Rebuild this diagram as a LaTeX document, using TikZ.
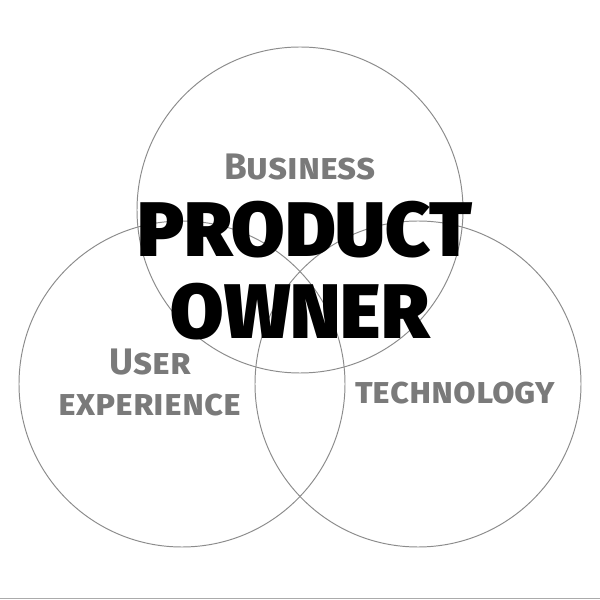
\documentclass[tikz,border=0pt]{standalone}
\usepackage{fontspec}
\setmainfont{Fira Sans}
\newfontfamily\bigfont{Fira Sans Black}
\newfontfamily\smallfont{Fira Sans Bold}[Letters=SmallCaps]
\definecolor{ringgray}{HTML}{8C8C8C}
\definecolor{labelgray}{HTML}{7A7A7A}
\tikzset{
  ring/.style={draw=ringgray, line width=0.55pt},
  area/.style={text=labelgray, font=\smallfont\fontsize{21}{22}\selectfont, align=center},
  title/.style={text=black, font=\bigfont\fontsize{44}{46}\selectfont, inner sep=0pt}
}
\begin{document}
\begin{tikzpicture}
\useasboundingbox (0,0) rectangle (12,12);
\fill[white] (0,0) rectangle (12,12);
\draw[ring] (6,7.8) circle (3.26);
\draw[ring] (3.64,4.32) circle (3.26);
\draw[ring] (8.36,4.32) circle (3.26);
\draw[draw=black!33, line width=0.9pt] (0,0.03)--(12,0.03);

\node[area] (business) at (6,8.66) {Business};
\node[area] (user) at (3,4.75) {User};
\node[area] (experience) at (3,3.9) {experience};
\node[area] (technology) at (9.1,4.13) {technology};

\node[title] (product) at (6.1,7.4) {PRODUCT};
\node[title] (owner) at (6,5.76) {OWNER};
\end{tikzpicture}
\end{document}
